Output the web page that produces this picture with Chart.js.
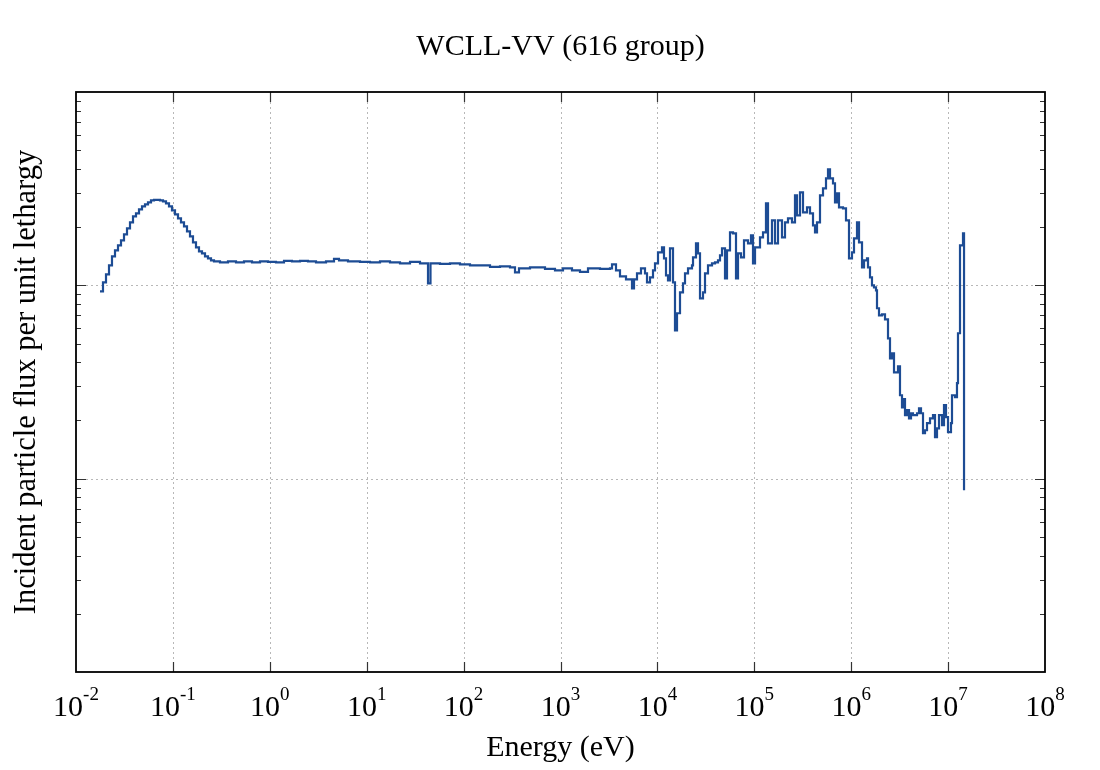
<!DOCTYPE html>
<html>
<head>
<meta charset="utf-8">
<title>WCLL-VV (616 group)</title>
<script src="https://cdn.jsdelivr.net/npm/chart.js@4.4.1/dist/chart.umd.min.js"></script>
<style>
  html, body { margin: 0; padding: 0; background: #fff; }
  #wrap { width: 1100px; height: 770px; position: relative; }
</style>
</head>
<body>
<div id="wrap"><canvas id="fluxChart"></canvas></div>
<script>
// bin lower edges (eV)
const energy = [
  1.769e-2, 1.899e-2, 2.040e-2, 2.191e-2, 2.352e-2, 2.526e-2, 2.713e-2, 2.913e-2, 3.129e-2, 3.360e-2,
  3.608e-2, 3.875e-2, 4.161e-2, 4.469e-2, 4.799e-2, 5.154e-2, 5.534e-2, 5.943e-2, 6.383e-2, 6.853e-2,
  7.360e-2, 7.905e-2, 8.488e-2, 9.116e-2, 9.788e-2, 0.1051, 0.1129, 0.1212, 0.1302, 0.1398,
  0.1501, 0.1612, 0.1731, 0.1859, 0.1996, 0.2144, 0.2302, 0.2473, 0.2655,
  0.3062, 0.3703, 0.4479, 0.5417, 0.6551, 0.7923, 0.9581, 1.159, 1.401, 1.695,
  2.050, 2.479, 2.998, 3.802, 4.597, 5.178, 6.412, 8.529, 10.82, 13.72,
  17.40, 22.06, 27.98, 35.49, 42.92, 45.54, 57.06, 72.37, 91.80, 116.4,
  147.6, 187.3, 237.5, 301.2, 339.2, 372.9, 484.5, 691.8, 877.4, 1061,
  1314, 1589, 1922, 2556, 3242, 3401, 3739, 4112, 4742, 5469,
  5735, 6159, 6770, 7447, 7811, 8387, 9008, 9446, 10143, 11156,
  11698, 12270, 12865, 13490, 14488, 15190, 15935, 17110, 18370, 19270,
  20700, 22750, 23310, 25020, 26240, 27520, 29550, 30990, 33280, 36600,
  39300, 42210, 44260, 46420, 49850, 52270, 56140, 60290, 64740, 67890,
  72910, 78300, 86100, 92460, 96960, 1.017e5, 1.145e5, 1.230e5, 1.320e5, 1.385e5,
  1.522e5, 1.635e5, 1.756e5, 1.931e5, 2.074e5, 2.227e5, 2.449e5, 2.630e5, 2.759e5, 2.962e5,
  3.181e5, 3.499e5, 3.757e5, 4.035e5, 4.231e5, 4.437e5, 4.764e5, 5.117e5, 5.495e5, 5.763e5,
  6.043e5, 6.490e5, 6.805e5, 7.136e5, 7.483e5, 8.229e5, 8.838e5, 9.491e5, 1.019e6, 1.069e6,
  1.148e6, 1.204e6, 1.293e6, 1.356e6, 1.456e6, 1.491e6, 1.563e6, 1.639e6, 1.719e6, 1.803e6,
  1.846e6, 1.936e6, 2.079e6, 2.233e6, 2.398e6, 2.514e6, 2.637e6, 2.765e6, 3.041e6, 3.188e6,
  3.344e6, 3.424e6, 3.591e6, 3.766e6, 3.949e6, 4.141e6, 4.343e6, 4.777e6, 5.009e6, 5.253e6,
  5.508e6, 5.776e6, 6.058e6, 6.506e6, 6.985e6, 7.325e6, 7.681e6, 8.055e6, 8.650e6, 9.071e6,
  9.513e6, 9.977e6, 1.071e7, 1.097e7, 1.178e7, 1.235e7, 1.265e7, 1.327e7, 1.425e7, 1.46e7
];

// flux per unit lethargy in each bin (arbitrary units, the axis carries no labels)
const flux = [
  93.1, 103.6, 114.0, 126.9, 141.2, 151.7, 160.9, 170.9, 183.5, 197.1,
  211.6, 227.3, 235.5, 247.1, 256.1, 262.3, 268.6, 275.0, 276.6, 276.6,
  275.0, 271.8, 265.4, 256.1, 244.1, 232.8, 222.0, 211.6, 201.8, 190.1,
  179.2, 166.8, 157.1, 149.8, 146.3, 141.2, 137.9, 134.6, 133.0,
  131.5, 133.0, 131.5, 133.0, 131.5, 133.0, 132.3, 131.5, 133.8, 133.0,
  133.8, 133.0, 131.5, 133.0, 137.1, 134.6, 133.0, 132.3, 131.5, 133.0,
  131.5, 129.9, 132.3, 129.9, 102.4, 129.9, 129.1, 129.9, 128.4, 126.9,
  126.9, 124.6, 125.3, 123.9, 116.7, 122.4, 123.9, 121.7, 119.6, 122.4,
  119.6, 117.4, 122.4, 121.7, 122.4, 128.4, 119.6, 111.3, 107.4, 96.5,
  107.4, 115.3, 122.4, 115.3, 103.6, 110.0, 119.6, 129.9, 148.1, 157.1,
  137.9, 112.6, 106.1, 155.3, 103.6, 58.5, 71.7, 92.0, 102.4, 115.3,
  122.4, 126.9, 139.5, 164.9, 146.3, 85.7, 92.0, 115.3, 126.9, 129.9,
  131.5, 134.6, 142.9, 155.3, 108.7, 151.7, 187.9, 185.7, 108.7, 146.3,
  139.5, 170.9, 164.9, 181.3, 129.9, 157.1, 177.0, 187.9, 265.4, 164.9,
  216.7, 164.9, 216.7, 177.0, 211.6, 222.0, 211.6, 291.8, 230.0, 302.4,
  238.4, 253.0, 235.5, 204.2, 187.9, 211.6, 291.8, 317.2, 357.3, 397.7,
  357.3, 336.6, 268.6, 298.8, 253.0, 250.0, 216.7, 137.9, 148.1, 175.0,
  211.6, 166.8, 123.9, 134.6, 137.9, 123.9, 110.0, 100.0, 97.6, 94.2,
  76.1, 70.0, 70.8, 66.7, 53.2, 41.9, 44.5, 35.5, 38.1, 27.0,
  23.4, 25.8, 21.3, 22.6, 20.5, 21.8, 21.3, 21.8, 23.1, 21.8,
  17.2, 17.8, 19.4, 20.5, 21.3, 16.4, 18.2, 21.3, 18.9, 24.0,
  20.8, 17.4, 19.4, 27.0, 26.4, 31.2, 56.5, 160.9, 185.7, 8.72
];

const xExponents = [-2, -1, 0, 1, 2, 3, 4, 5, 6, 7, 8];
const yMin = 1, yMax = 1000;
const yDecades = [0, 1, 2, 3];

const serif = '"Liberation Serif", "Times New Roman", serif';

const points = energy.map((e, i) => ({ x: e, y: flux[i] }));

// dotted grid, frame, inward ticks and 10^n labels
const axesDecor = {
  id: 'axesDecor',
  beforeDatasetsDraw(chart) {
    const { ctx, chartArea: a, scales: { x, y } } = chart;
    ctx.save();
    ctx.strokeStyle = '#b8b8b8';
    ctx.lineWidth = 1;
    ctx.setLineDash([2, 3]);
    ctx.beginPath();
    xExponents.slice(1, -1).forEach(p => {
      const px = Math.round(x.getPixelForValue(Math.pow(10, p))) + 0.5;
      ctx.moveTo(px, a.top); ctx.lineTo(px, a.bottom);
    });
    yDecades.slice(1, -1).forEach(p => {
      const py = Math.round(y.getPixelForValue(Math.pow(10, p))) + 0.5;
      ctx.moveTo(a.left, py); ctx.lineTo(a.right, py);
    });
    ctx.stroke();
    ctx.restore();
  },
  afterDraw(chart) {
    const { ctx, chartArea: a, scales: { x, y } } = chart;
    ctx.save();
    ctx.strokeStyle = '#333';
    ctx.lineWidth = 1.2;
    ctx.beginPath();
    xExponents.slice(1, -1).forEach(p => {
      const px = Math.round(x.getPixelForValue(Math.pow(10, p))) + 0.5;
      ctx.moveTo(px, a.bottom); ctx.lineTo(px, a.bottom - 10);
      ctx.moveTo(px, a.top); ctx.lineTo(px, a.top + 10);
    });
    for (let k = 0; k < yDecades.length - 1; k++) {
      for (let m = 1; m <= 9; m++) {
        const v = m * Math.pow(10, yDecades[k]);
        if (v <= yMin) continue;
        const len = m === 1 ? 10 : 5;
        const py = Math.round(y.getPixelForValue(v)) + 0.5;
        ctx.moveTo(a.left, py); ctx.lineTo(a.left + len, py);
        ctx.moveTo(a.right, py); ctx.lineTo(a.right - len, py);
      }
    }
    ctx.stroke();

    ctx.strokeStyle = '#000';
    ctx.lineWidth = 1.8;
    ctx.strokeRect(a.left, a.top, a.right - a.left, a.bottom - a.top);

    // tick labels as 10 with a raised exponent
    ctx.fillStyle = '#000';
    ctx.textBaseline = 'alphabetic';
    ctx.textAlign = 'left';
    xExponents.forEach(p => {
      const px = x.getPixelForValue(Math.pow(10, p));
      const base = '10', exp = String(p);
      ctx.font = '30px ' + serif;
      const wb = ctx.measureText(base).width;
      ctx.font = '19px ' + serif;
      const we = ctx.measureText(exp).width;
      const left = px - (wb + we) / 2;
      ctx.font = '30px ' + serif;
      ctx.fillText(base, left, a.bottom + 44);
      ctx.font = '19px ' + serif;
      ctx.fillText(exp, left + wb, a.bottom + 28);
    });
    ctx.restore();
  }
};

new Chart(document.getElementById('fluxChart'), {
  type: 'line',
  data: {
    datasets: [{
      label: 'WCLL-VV',
      data: points,
      // each value holds from its energy up to the next one
      stepped: 'before',
      borderColor: '#1d4c94',
      borderWidth: 2.2,
      pointRadius: 0,
      fill: false
    }]
  },
  options: {
    responsive: true,
    maintainAspectRatio: false,
    animation: false,
    events: [],
    layout: { padding: { left: 0, right: 55, top: 0, bottom: 0 } },
    scales: {
      x: {
        type: 'logarithmic',
        min: Math.pow(10, xExponents[0]),
        max: Math.pow(10, xExponents[xExponents.length - 1]),
        grid: { display: false },
        border: { display: false },
        ticks: { display: false },
        title: {
          display: true,
          text: 'Energy (eV)',
          color: '#000',
          font: { family: serif, size: 30 },
          padding: { top: 0, bottom: 4 }
        },
        afterFit(scale) { scale.height = 98; }
      },
      y: {
        type: 'logarithmic',
        min: yMin,
        max: yMax,
        grid: { display: false },
        border: { display: false },
        ticks: { display: false },
        title: {
          display: true,
          text: 'Incident particle flux per unit lethargy',
          color: '#000',
          font: { family: serif, size: 30.5 },
          padding: { top: 9, bottom: 0 }
        },
        afterFit(scale) { scale.width = 76; }
      }
    },
    plugins: {
      legend: { display: false },
      tooltip: { enabled: false },
      title: {
        display: true,
        fullSize: false,
        text: 'WCLL-VV (616 group)',
        color: '#000',
        font: { family: serif, size: 30, weight: 'normal' },
        padding: { top: 29, bottom: 27 }
      }
    }
  },
  plugins: [axesDecor]
});
</script>
</body>
</html>
